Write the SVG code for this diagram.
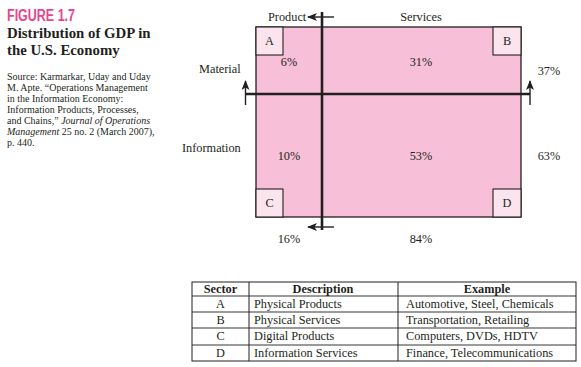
<svg xmlns="http://www.w3.org/2000/svg" width="581" height="367" viewBox="0 0 581 367">
<defs>
<style>
text{font-family:"Liberation Serif","Times New Roman",serif;fill:#231f20;}
.lbl{font-size:12.3px;}
.mid{text-anchor:middle;}
.fig{font-family:"Liberation Sans",Arial,sans-serif;font-size:16px;font-weight:bold;fill:#e8458b;}
.ttl{font-size:14.8px;font-weight:bold;}
.src{font-size:10px;}
.tbl{font-size:12.3px;}
.th{font-size:12.3px;font-weight:bold;}
.quad{fill:#f7c0d8;stroke:#231f20;stroke-width:1.3;}
.corner{fill:#fce4ee;stroke:#231f20;stroke-width:1.1;}
.axis{stroke:#231f20;stroke-width:2.6;fill:none;}
.arr{stroke:#231f20;stroke-width:1.4;fill:none;}
.rowsep{stroke:#9a9a9a;stroke-width:2;}
.cell{stroke:#231f20;stroke-width:1;fill:none;}
</style>
<marker id="ah" markerWidth="10" markerHeight="8" refX="9" refY="4" orient="auto" markerUnits="userSpaceOnUse">
<path d="M0,0 L10,4 L0,8 L2.5,4 Z" fill="#231f20"/>
</marker>
</defs>

<g id="title">
<text class="fig" x="7" y="21" textLength="68" lengthAdjust="spacingAndGlyphs">FIGURE 1.7</text>
<text class="ttl" x="7" y="38">Distribution of GDP in</text>
<text class="ttl" x="7" y="55">the U.S. Economy</text>
</g>
<g id="source">
<text class="src" x="7" y="80">Source: Karmarkar, Uday and Uday</text>
<text class="src" x="7" y="91">M. Apte. “Operations Management</text>
<text class="src" x="7" y="102">in the Information Economy:</text>
<text class="src" x="7" y="113">Information Products, Processes,</text>
<text class="src" x="7" y="124">and Chains,” <tspan font-style="italic">Journal of Operations</tspan></text>
<text class="src" x="7" y="135"><tspan font-style="italic">Management</tspan> 25 no. 2 (March 2007),</text>
<text class="src" x="7" y="146">p. 440.</text>
</g>

<g id="matrix">
<rect class="quad" x="256" y="27" width="265" height="190"/>
</g>
<g id="sectorA"><rect class="corner" x="256" y="27" width="27" height="28"/><text class="lbl mid" x="269.5" y="45">A</text></g>
<g id="sectorB"><rect class="corner" x="493" y="27" width="28" height="28"/><text class="lbl mid" x="507" y="45">B</text></g>
<g id="sectorC"><rect class="corner" x="256" y="189" width="27" height="28"/><text class="lbl mid" x="269.5" y="207">C</text></g>
<g id="sectorD"><rect class="corner" x="493" y="189" width="28" height="28"/><text class="lbl mid" x="507" y="207">D</text></g>

<g id="connectors">
<line class="axis" x1="322" y1="12" x2="322" y2="230"/>
<line class="axis" x1="245" y1="94" x2="530" y2="94"/>
<line class="arr" x1="334" y1="17" x2="308" y2="17" marker-end="url(#ah)"/>
<line class="arr" x1="334" y1="227" x2="308" y2="227" marker-end="url(#ah)"/>
<line class="arr" x1="245.5" y1="105" x2="245.5" y2="81" marker-end="url(#ah)"/>
<line class="arr" x1="530" y1="105" x2="530" y2="81" marker-end="url(#ah)"/>
</g>

<g id="labels">
<text class="lbl" x="268" y="21">Product</text>
<text class="lbl mid" x="421" y="21">Services</text>
<text class="lbl" x="199" y="73">Material</text>
<text class="lbl" x="182" y="152">Information</text>
<text class="lbl mid" x="289" y="66">6%</text>
<text class="lbl mid" x="421" y="66">31%</text>
<text class="lbl mid" x="549" y="75">37%</text>
<text class="lbl mid" x="289" y="160">10%</text>
<text class="lbl mid" x="421" y="160">53%</text>
<text class="lbl mid" x="549" y="160">63%</text>
<text class="lbl mid" x="289" y="243">16%</text>
<text class="lbl mid" x="421" y="243">84%</text>
</g>

<g id="table">
<line class="rowsep" x1="192" y1="296" x2="576" y2="296"/>
<line class="rowsep" x1="192" y1="312" x2="576" y2="312"/>
<line class="rowsep" x1="192" y1="328" x2="576" y2="328"/>
<line class="rowsep" x1="192" y1="345" x2="576" y2="345"/>
<rect class="cell" x="192" y="282" width="384" height="79"/>
<line class="cell" x1="249" y1="282" x2="249" y2="361"/>
<line class="cell" x1="398" y1="282" x2="398" y2="361"/>
<text class="th mid" x="220.5" y="293">Sector</text>
<text class="th mid" x="323" y="293">Description</text>
<text class="th mid" x="487" y="293">Example</text>
<text class="tbl mid" x="220.5" y="308">A</text>
<text class="tbl mid" x="220.5" y="324">B</text>
<text class="tbl mid" x="220.5" y="340">C</text>
<text class="tbl mid" x="220.5" y="357">D</text>
<text class="tbl" x="254" y="308">Physical Products</text>
<text class="tbl" x="254" y="324">Physical Services</text>
<text class="tbl" x="254" y="340">Digital Products</text>
<text class="tbl" x="254" y="357">Information Services</text>
<text class="tbl" x="406" y="308">Automotive, Steel, Chemicals</text>
<text class="tbl" x="406" y="324">Transportation, Retailing</text>
<text class="tbl" x="406" y="340">Computers, DVDs, HDTV</text>
<text class="tbl" x="406" y="357">Finance, Telecommunications</text>
</g>
</svg>
